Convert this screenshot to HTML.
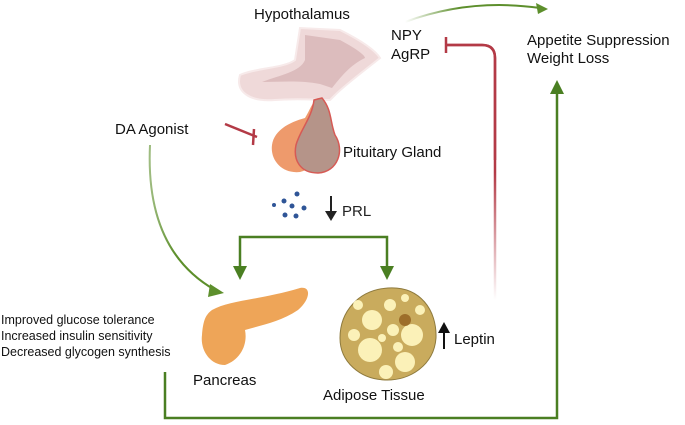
<!DOCTYPE html>
<html><head><style>
body{margin:0;background:#fff;}
svg{display:block;font-family:"Liberation Sans",sans-serif;}
</style></head><body>
<svg width="685" height="425" viewBox="0 0 685 425" xmlns="http://www.w3.org/2000/svg">
<defs>
<linearGradient id="rg" x1="0" y1="1" x2="0" y2="0"><stop offset="0" stop-color="#b33a46" stop-opacity="0"/><stop offset="0.5" stop-color="#b33a46"/></linearGradient>
<linearGradient id="gg" x1="0" y1="0" x2="1" y2="0"><stop offset="0" stop-color="#5d8f2c" stop-opacity="0"/><stop offset="0.4" stop-color="#5d8f2c"/></linearGradient>
</defs>
<!-- hypothalamus -->
<path d="M240 75 C255 68 285 68 295 60 L300 28 L340 30 C360 40 375 50 380 58 C365 70 345 85 335 95 L330 100 C315 100 300 98 275 100 C250 102 235 92 240 75Z" fill="#efd9d9" stroke="#f7eaea" stroke-width="2"/>
<path d="M305 35 L340 40 C355 48 365 55 365 58 C350 65 340 78 332 88 L320 84 C300 80 280 82 262 82 C280 75 300 72 305 60Z" fill="#dcbcbd"/>
<!-- pituitary -->
<path d="M318 98 C328 104 328 115 322 122 C325 140 320 168 300 172 C282 174 270 160 272 145 C274 130 290 122 305 118 C310 110 312 102 318 98Z" fill="#ee9a6c"/>
<path d="M322 98 C332 110 330 122 335 135 C345 150 338 172 318 173 C300 173 293 160 296 145 C300 130 312 118 314 100Z" fill="#b59489" stroke="#d65a55" stroke-width="1.5"/>
<!-- green curve top -->
<path d="M405 22 Q470 -2 540 8" fill="none" stroke="url(#gg)" stroke-width="2"/>
<path d="M548 9 L536 3 L538 14Z" fill="#5d8f2c"/>
<!-- red inhibit from leptin -->
<path d="M495 300 L495 58 Q495 45 482 45 L446 45" fill="none" stroke="url(#rg)" stroke-width="2.5"/>
<path d="M495 160 L495 58 Q495 45 482 45 L446 45" fill="none" stroke="#b33a46" stroke-width="2.5"/>
<line x1="446" y1="37" x2="446" y2="53" stroke="#b33a46" stroke-width="2.5"/>
<!-- DA inhibit -->
<line x1="225" y1="124" x2="257" y2="137" stroke="#b33a46" stroke-width="2.5"/>
<line x1="254" y1="129" x2="253" y2="145" stroke="#b33a46" stroke-width="2.5"/>
<!-- DA green curve -->
<path d="M150 145 Q145 250 215 290" fill="none" stroke="url(#gg)" stroke-width="2"/>
<path d="M150 145 Q145 250 215 290" fill="none" stroke="#5d8f2c" stroke-width="2" stroke-opacity="0.6"/>
<path d="M224 293 L210 284 L208 297Z" fill="#5d8f2c"/>
<!-- PRL dots -->
<g fill="#2f5597"><circle cx="297" cy="194" r="2.5"/><circle cx="284" cy="201" r="2.5"/><circle cx="292" cy="206" r="2.5"/><circle cx="304" cy="208" r="2.5"/><circle cx="285" cy="215" r="2.5"/><circle cx="296" cy="216" r="2.5"/><circle cx="274" cy="205" r="2"/></g>
<line x1="331" y1="196" x2="331" y2="214" stroke="#222" stroke-width="2"/>
<path d="M325 211 L337 211 L331 221Z" fill="#222"/>
<text x="342" y="216" font-size="15" fill="#222">PRL</text>
<!-- bracket -->
<path d="M240 268 L240 237 L387 237 L387 268" fill="none" stroke="#4a7f22" stroke-width="2.5"/>
<path d="M233 266 L247 266 L240 280Z M380 266 L394 266 L387 280Z" fill="#4a7f22"/>
<!-- pancreas -->
<path d="M212 310 C230 300 260 300 300 288 C312 286 310 300 298 310 C280 322 262 325 245 330 C248 345 240 360 225 365 C210 365 200 350 202 335 C203 322 205 315 212 310Z" fill="#eea558"/>
<!-- adipose -->
<path d="M388 288 C420 286 437 310 436 338 C434 365 410 381 385 380 C360 379 340 362 340 338 C340 312 358 290 388 288Z" fill="#c9ab5d" stroke="#8e7a3d"/>
<g fill="#fbf1b8">
<circle cx="372" cy="320" r="10"/><circle cx="412" cy="335" r="11"/><circle cx="370" cy="350" r="12"/><circle cx="405" cy="362" r="10"/><circle cx="390" cy="305" r="6"/><circle cx="358" cy="305" r="5"/><circle cx="393" cy="330" r="6"/><circle cx="386" cy="372" r="7"/><circle cx="354" cy="335" r="6"/><circle cx="420" cy="310" r="5"/><circle cx="398" cy="347" r="5"/><circle cx="382" cy="338" r="4"/><circle cx="405" cy="298" r="4"/></g>
<circle cx="405" cy="320" r="6" fill="#9d6e2a"/>
<line x1="444" y1="330" x2="444" y2="349" stroke="#111" stroke-width="2"/>
<path d="M438 333 L450 333 L444 322Z" fill="#111"/>
<!-- bottom path -->
<path d="M165 372 L165 418 L557 418 L557 92" fill="none" stroke="#4a7f22" stroke-width="2.5"/>
<path d="M550 94 L564 94 L557 80Z" fill="#4a7f22"/>
<!-- text -->
<g fill="#111" font-size="15">
<text x="254" y="19">Hypothalamus</text>
<text x="391" y="40">NPY</text>
<text x="391" y="59">AgRP</text>
<text x="527" y="45">Appetite Suppression</text>
<text x="527" y="63">Weight Loss</text>
<text x="115" y="134">DA Agonist</text>
<text x="343" y="157">Pituitary Gland</text>
<text x="193" y="385">Pancreas</text>
<text x="323" y="400">Adipose Tissue</text>
<text x="454" y="344">Leptin</text>
</g>
<g fill="#111" font-size="12.5">
<text x="1" y="324">Improved glucose tolerance</text>
<text x="1" y="340">Increased insulin sensitivity</text>
<text x="1" y="356">Decreased glycogen synthesis</text>
</g>
</svg>
</body></html>
